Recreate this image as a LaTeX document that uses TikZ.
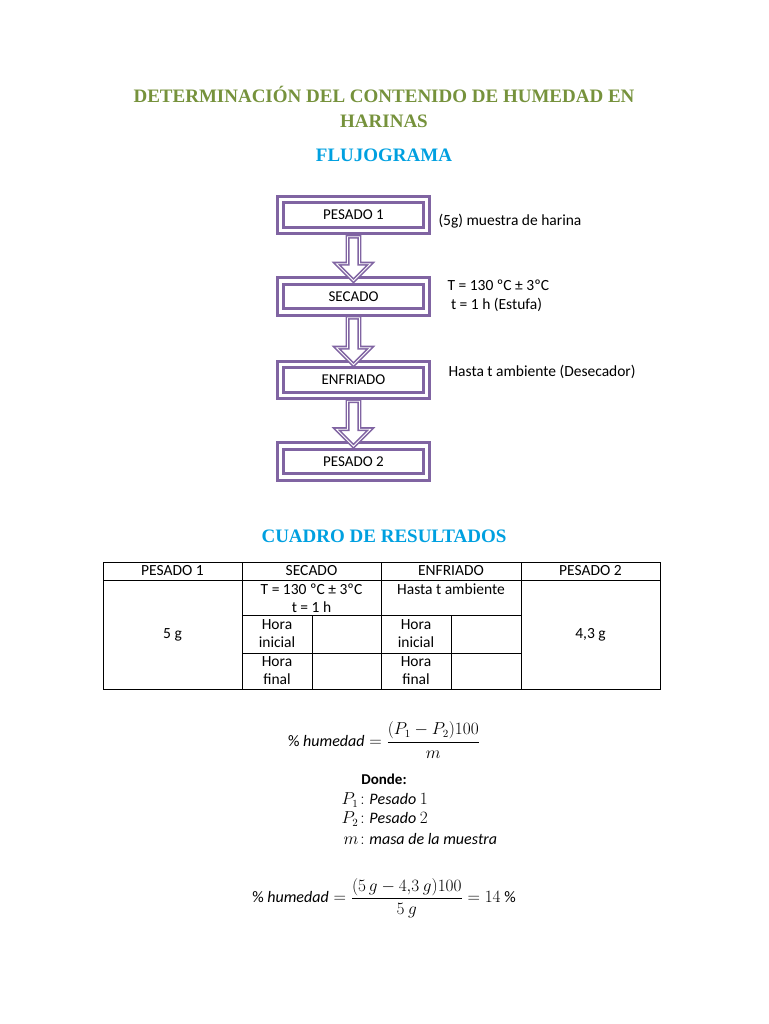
\documentclass[tikz,border=0pt]{standalone}
\usepackage{amsmath}
\usepackage{fontspec}
\setmainfont{Carlito}
\newfontfamily\titlefont{Liberation Serif}
\usetikzlibrary{shapes.arrows}
\definecolor{tgreen}{HTML}{76923C}
\definecolor{tblue}{HTML}{00A0E0}
\definecolor{purp}{HTML}{8064A2}
\begin{document}
\begin{tikzpicture}[x=1pt,y=-1pt,
  stepbox/.style={draw=purp,line width=3pt,double=white,double distance=3.5pt,minimum width=146pt,minimum height=31pt,font=\fontsize{15}{17}\selectfont,inner sep=0pt},
  harrow/.style={single arrow,draw=purp,double=white,double distance=0.8pt,line width=1.6pt,fill=white,shape border rotate=270,minimum width=34pt,single arrow head extend=9pt,minimum height=44pt,inner sep=4pt},
  lbl/.style={font=\fontsize{15.5}{19}\selectfont,anchor=west,align=left},
  cell/.style={font=\fontsize{15.5}{18}\selectfont,align=center},
  ttl/.style={font=\titlefont\bfseries\fontsize{19}{25}\selectfont,align=center}]
\useasboundingbox (0,0) rectangle (768,1024);
\node[ttl,text=tgreen] (t1) at (384,107) {DETERMINACIÓN DEL CONTENIDO DE HUMEDAD EN\\HARINAS};
\node[ttl,text=tblue] (t2) at (384,155) {FLUJOGRAMA};
\node[stepbox] (a) at (353.5,215) {PESADO 1};
\node[stepbox] (b) at (353.5,296.5) {SECADO};
\node[stepbox] (c) at (353.5,380) {ENFRIADO};
\node[stepbox] (d) at (353.5,461.5) {PESADO 2};
\path (a.south) -- (b.north) node[midway,harrow,minimum height=44pt] (ar1) {};
\path (b.south) -- (c.north) node[midway,harrow,minimum height=47pt] (ar2) {};
\path (c.south) -- (d.north) node[midway,harrow,minimum height=45pt] (ar3) {};
\node[lbl] (l1) at (435,221) {(5g) muestra de harina};
\node[lbl] (l2) at (444,296) {T = 130 ºC ± 3ºC\\\ t = 1 h (Estufa)};
\node[lbl] (l3) at (445,372) {Hasta t ambiente (Desecador)};
\node[ttl,text=tblue] (t3) at (384,536) {CUADRO DE RESULTADOS};
% table
\draw[line width=0.8pt] (103,562) rectangle (660,689);
\draw[line width=0.8pt] (103,580) -- (660,580) (242,615) -- (521,615) (242,653) -- (521,653)
 (242,562) -- (242,689) (381,562) -- (381,689) (521,562) -- (521,689)
 (312,615) -- (312,689) (451,615) -- (451,689);
\node[cell] (h1) at (172.5,571) {PESADO 1};
\node[cell] (h2) at (311.5,571) {SECADO};
\node[cell] (h3) at (451,571) {ENFRIADO};
\node[cell] (h4) at (590.5,571) {PESADO 2};
\node[cell] (v1) at (172.5,635) {5 g};
\node[cell] (v4) at (590.5,635) {4,3 g};
\node[cell] (s1) at (311.5,598) {T = 130 ºC ± 3ºC\\t = 1 h};
\node[cell] (e1) at (451,589) {Hasta t ambiente};
\node[cell] (s2) at (277,634) {Hora\\inicial};
\node[cell] (s3) at (277,671) {Hora\\final};
\node[cell] (e2) at (416,634) {Hora\\inicial};
\node[cell] (e3) at (416,671) {Hora\\final};
% formulas
\node[font=\fontsize{16}{19}\selectfont] (f1) at (384,740) {$\%\ \mathit{humedad}=\dfrac{(P_1-P_2)100}{m}$};
\node[font=\bfseries\fontsize{15}{18}\selectfont] (dn) at (384,779) {Donde:};
\node[font=\fontsize{16}{19}\selectfont,anchor=west] (p1) at (338,800) {$P_1\!: \mathit{Pesado}\ 1$};
\node[font=\fontsize{16}{19}\selectfont,anchor=west] (p2) at (338,819) {$P_2\!: \mathit{Pesado}\ 2$};
\node[font=\fontsize{16}{19}\selectfont,anchor=west] (p3) at (340,839) {$m\!: \mathit{masa\ de\ la\ muestra}$};
\node[font=\fontsize{16}{19}\selectfont] (f2) at (384,898) {$\%\ \mathit{humedad}=\dfrac{(5\,g-4{,}3\ g)100}{5\ g}=14\ \%$};
\end{tikzpicture}
\end{document}
